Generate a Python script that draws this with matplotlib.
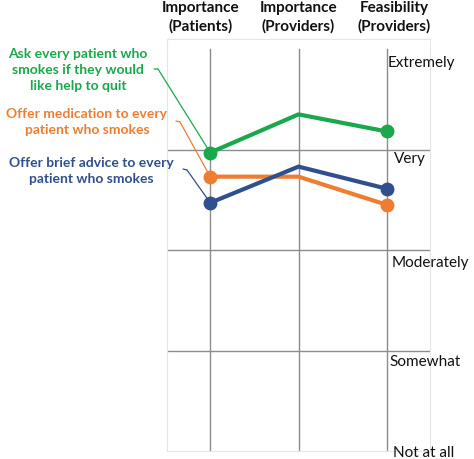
import matplotlib
matplotlib.use("Agg")
from matplotlib import pyplot as plt

# columns and rating levels
columns = ["Importance\n(Patients)", "Importance\n(Providers)", "Feasibility\n(Providers)"]
levels = [1, 2, 3, 4, 5]
levelNames = ["Not at all", "Somewhat", "Moderately", "Very", "Extremely"]

# mean ratings
askHelp = [3.97, 4.35, 4.18]
offerMeds = [3.73, 3.73, 3.45]
briefAdvice = [3.47, 3.83, 3.61]

seriesNames = ["Ask every patient who\nsmokes if they would\nlike help to quit",
               "Offer medication to every\npatient who smokes",
               "Offer brief advice to every\npatient who smokes"]
seriesVals = [askHelp, offerMeds, briefAdvice]
seriesCols = ["#1aa84c", "#ee7d31", "#2f4f8f"]

plt.rcParams['font.family'] = ['Lato', 'DejaVu Sans']

W, H = 474, 460
fig = plt.figure(figsize=(W/100, H/100), dpi=100)
ax = fig.add_axes([167/W, 8/H, 263/W, 412/H])
ax.set_xlim(-0.49, 2.49)
ax.set_ylim(1, 5.1)
ax.set_xticks([])
ax.set_yticks([])
for s in ax.spines.values():
  s.set_color("#e6e6e6")
  s.set_linewidth(0.8)

xs = list(range(len(columns)))
for lv in levels[1:4]:
  ax.axhline(lv, color="#8c8c8c", lw=1, zorder=1)
for x in xs:
  ax.plot([x, x], [levels[0], levels[-1]], color="#8c8c8c", lw=1, zorder=1)

for vals, c in zip(seriesVals, seriesCols):
  ax.plot(xs, vals, color=c, lw=3, zorder=3, solid_capstyle='round')
  ax.plot([xs[0], xs[-1]], [vals[0], vals[-1]], 'o', color=c, ms=9, zorder=4)

# level names on the right
offs = [-1, -10, -12, -8, -13]
xoffs = [6, 3, 5, 7, 1]
for lv, nm, dy, dx in zip(levels, levelNames, offs, xoffs):
  ax.annotate(nm, xy=(xs[-1], lv), xytext=(dx, dy), textcoords='offset pixels',
              va='center', ha='left', fontsize=11, color="#111111", annotation_clip=False)

# column headings
hoffs = [-10, 0, 7]
for x, col, dx in zip(xs, columns, hoffs):
  ax.annotate(col, xy=(x, 5.1), xytext=(dx, 6), textcoords='offset pixels',
              ha='center', va='bottom', fontsize=11, fontweight='bold',
              color="#111111", annotation_clip=False, linespacing=1.35)

# series labels with leader lines (image pixel positions)
labelPos = [(78, 70), (87, 122), (91, 171)]
leadStart = [(154, 70), (176, 122), (183, 170)]
leadKnee = [(158, 70), (180, 123), (187, 171)]
for nm, vals, c, lp, ls, lk in zip(seriesNames, seriesVals, seriesCols, labelPos, leadStart, leadKnee):
  fig.text(lp[0]/W, 1 - lp[1]/H, nm, ha='center', va='center', fontsize=10,
           fontweight='bold', color=c, linespacing=1.4)
  ax.annotate('', xy=(lk[0], H - lk[1]), xycoords='figure pixels',
              xytext=(ls[0], H - ls[1]), textcoords='figure pixels',
              arrowprops=dict(arrowstyle='-', color=c, lw=0.9, shrinkA=0, shrinkB=0))
  ax.annotate('', xy=(xs[0], vals[0]), xycoords='data',
              xytext=(lk[0], H - lk[1]), textcoords='figure pixels',
              arrowprops=dict(arrowstyle='-', color=c, lw=0.9, shrinkA=0, shrinkB=0))

fig.savefig("out.png", dpi=100, facecolor="white")
